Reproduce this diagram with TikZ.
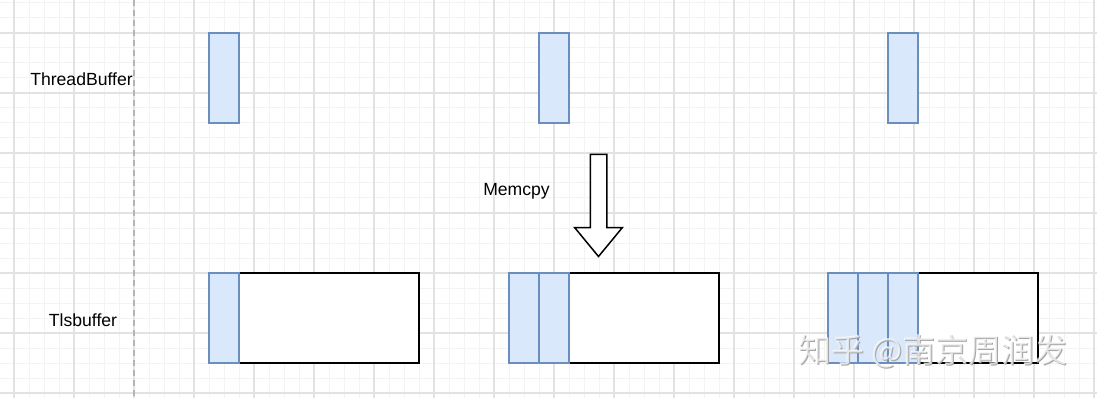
\documentclass[tikz,border=0pt]{standalone}
\usepackage{fontspec}
\setmainfont{Liberation Sans}
\newfontfamily\cjkfont{Noto Sans CJK SC}
\usetikzlibrary{positioning,shapes.arrows}
\definecolor{minorgrid}{RGB}{243,243,243}
\definecolor{majorgrid}{RGB}{226,226,226}
\definecolor{guidegrey}{RGB}{180,180,180}
\definecolor{cellblue}{RGB}{218,232,252}
\definecolor{celledge}{RGB}{108,142,191}
\definecolor{markgrey}{RGB}{165,165,165}
\tikzset{
  cellbox/.style={draw=celledge,line width=1.5pt,fill=cellblue,
    minimum width=30pt,minimum height=90pt,inner sep=0pt,outer sep=0pt},
  tlsbox/.style={draw=black,line width=1.5pt,fill=white,
    minimum width=210pt,minimum height=90pt,inner sep=0pt,outer sep=0pt},
  copyarrow/.style={single arrow,draw=black,line width=1.5pt,fill=white,
    minimum height=102pt,inner sep=7.5pt,single arrow head extend=15.5pt,
    single arrow tip angle=79,rotate=-90,outer sep=0pt},
  rowlabel/.style={font=\fontsize{17.6}{20}\selectfont,inner sep=0pt},
  marktext/.style={font=\cjkfont\fontsize{33}{36}\selectfont,inner sep=0pt}
}

\begin{document}
\begin{tikzpicture}[x=1pt,y=-1pt]
  \useasboundingbox (0,0) rectangle (1097,398);
  \fill[white] (0,0) rectangle (1097,398);
  % grid
  \foreach \x in {-1,14,...,1097} \draw[minorgrid,line width=1pt] (\x,0) -- (\x,398);
  \foreach \y in {3,18,...,398} \draw[minorgrid,line width=1pt] (0,\y) -- (1097,\y);
  \foreach \x in {14,74,...,1097} \draw[majorgrid,line width=1.2pt] (\x,0) -- (\x,398);
  \foreach \y in {33,93,...,398} \draw[majorgrid,line width=1.5pt] (0,\y) -- (1097,\y);
  \draw[guidegrey,line width=1.2pt,dash pattern=on 6pt off 4pt] (134,0) -- (134,398);

  % labels
  \node[rowlabel] (threadlbl) at (81.5,79) {ThreadBuffer};
  \node[rowlabel] (tlslbl) at (83,320) {Tlsbuffer};
  \node[rowlabel] (memcpylbl) at (516.5,191) {Memcpy};

  % thread buffers
  \node[cellbox] (tb1) at (224,78) {};
  \node[cellbox] (tb2) at (554,78) {};
  \node[cellbox] (tb3) at (903,78) {};

  % tls buffers
  \node[tlsbox] (tls1) at (314,318) {};
  \node[cellbox,anchor=west] (tls1a) at (tls1.west) {};

  \node[tlsbox] (tls2) at (614,318) {};
  \node[cellbox,anchor=west] (tls2a) at (tls2.west) {};
  \node[cellbox,right=0pt of tls2a] (tls2b) {};

  \node[tlsbox] (tls3) at (933,318) {};
  \node[cellbox,anchor=west] (tls3a) at (tls3.west) {};
  \node[cellbox,right=0pt of tls3a] (tls3b) {};
  \node[cellbox,right=0pt of tls3b] (tls3c) {};

  % memcpy arrow
  \node[copyarrow,anchor=tip] (copy) at (598.5,256.5) {};

  % watermark
  \node[marktext,text=markgrey] (markshadow) at (934,352) {知乎 @南京周润发};
  \node[marktext,text=white,opacity=0.7] (mark) at (933,351) {知乎 @南京周润发};
\end{tikzpicture}
\end{document}
